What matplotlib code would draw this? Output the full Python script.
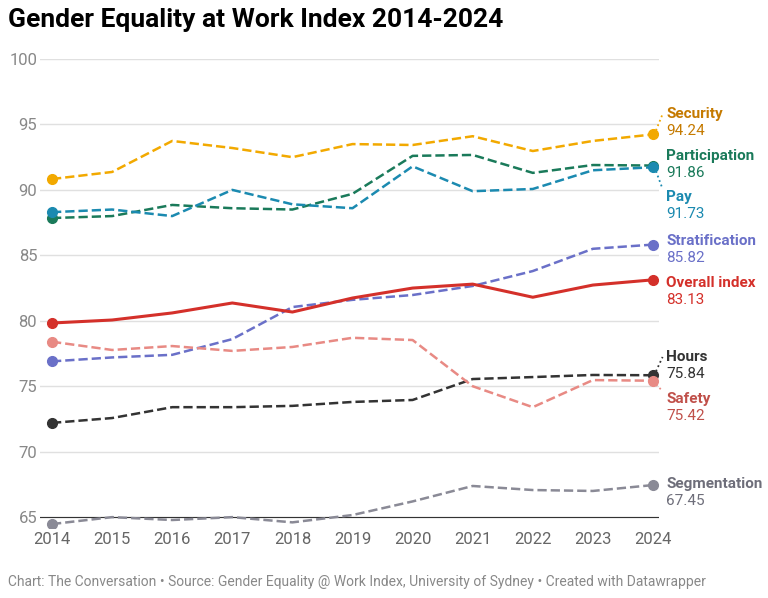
import matplotlib
matplotlib.use("Agg")
import matplotlib.pyplot as plt

plt.rcParams['font.family'] = ['Roboto', 'DejaVu Sans']

years = list(range(2014, 2025))
security = [90.83, 91.37, 93.74, 93.2, 92.5, 93.5, 93.43, 94.1, 92.97, 93.74, 94.24]
participation = [87.85, 88.0, 88.85, 88.6, 88.5, 89.7, 92.6, 92.67, 91.3, 91.9, 91.86]
pay = [88.3, 88.5, 88.0, 90.0, 88.9, 88.6, 91.8, 89.9, 90.07, 91.5, 91.73]
stratification = [76.9, 77.2, 77.4, 78.6, 81.05, 81.6, 81.97, 82.66, 83.8, 85.5, 85.82]
overall = [79.83, 80.06, 80.6, 81.36, 80.67, 81.74, 82.5, 82.8, 81.8, 82.73, 83.13]
safety = [78.4, 77.77, 78.07, 77.7, 78.0, 78.7, 78.53, 75.0, 73.4, 75.47, 75.42]
hours = [72.2, 72.57, 73.4, 73.4, 73.5, 73.8, 73.95, 75.55, 75.7, 75.86, 75.84]
segmentation = [64.47, 65.0, 64.78, 65.0, 64.6, 65.16, 66.2, 67.38, 67.07, 67.0, 67.45]

series = [
    ("Security", security, "#f2a900", "#c57a00", "--", 114, True),
    ("Participation", participation, "#1a7a5a", "#1a7a5a", "--", 156, False),
    ("Pay", pay, "#1b8ab0", "#1b8ab0", "--", 197, True),
    ("Stratification", stratification, "#6a70c8", "#6a70c8", "--", 241, False),
    ("Overall index", overall, "#d4302a", "#d4302a", "-", 283, False),
    ("Hours", hours, "#333333", "#333333", "--", 357, True),
    ("Safety", safety, "#e88a84", "#c0504a", "--", 399, True),
    ("Segmentation", segmentation, "#8a8a96", "#6e6e7a", "--", 484, False),
]

fig = plt.figure(figsize=(7.68, 5.98), dpi=100)
ax = fig.add_axes([40/768, 1-527.6/598, 619/768, 468.6/598])
ax.set_xlim(2013.8, 2024.1)
ax.set_ylim(64.2, 100)

def py2d(p):
    return 100 - (p - 59) / 13.09

for name, vals, c, tc, ls, ly, leader in series:
    lw = 2.2 if ls == "-" else 1.8
    ax.plot(years, vals, ls, color=c, lw=lw, zorder=3)
    ax.plot([years[0], years[-1]], [vals[0], vals[-1]], "o", color=c, ms=7, zorder=4)
    ty = py2d(ly)
    ax.text(2024.22, ty, name, color=tc, fontsize=11, fontweight="bold", va="center", ha="left", clip_on=False)
    ax.text(2024.22, py2d(ly + 17), f"{vals[-1]:.2f}", color=tc, fontsize=11, va="center", ha="left", clip_on=False)
    if leader:
        up = ty > vals[-1]
        y0 = vals[-1] + (0.3 if up else -0.3)
        y1 = ty if up else py2d(ly - 8)
        ax.plot([2024.05, 2024.16], [y0, y1], ":", color=c, lw=1.3, clip_on=False)

ax.set_yticks([65, 70, 75, 80, 85, 90, 95, 100])
ax.set_xticks(years)
ax.grid(axis="y", color="#e0e0e0", lw=1)
ax.set_axisbelow(True)
for s in ax.spines.values():
    s.set_visible(False)
ax.tick_params(length=0, labelsize=12, colors="#666666")
ax.tick_params(axis="y", pad=2)
for lbl in ax.get_yticklabels():
    lbl.set_color("#888888")
ax.axhline(65, color="#333333", lw=0.8, zorder=1)

fig.text(8/768, 1-20/598, "Gender Equality at Work Index 2014-2024", fontsize=19, fontweight="bold", va="center", ha="left")
fig.text(8/768, 1-582/598, "Chart: The Conversation • Source: Gender Equality @ Work Index, University of Sydney • Created with Datawrapper",
         fontsize=10, color="#888888", va="center", ha="left")
fig.savefig("out.png", dpi=100)
